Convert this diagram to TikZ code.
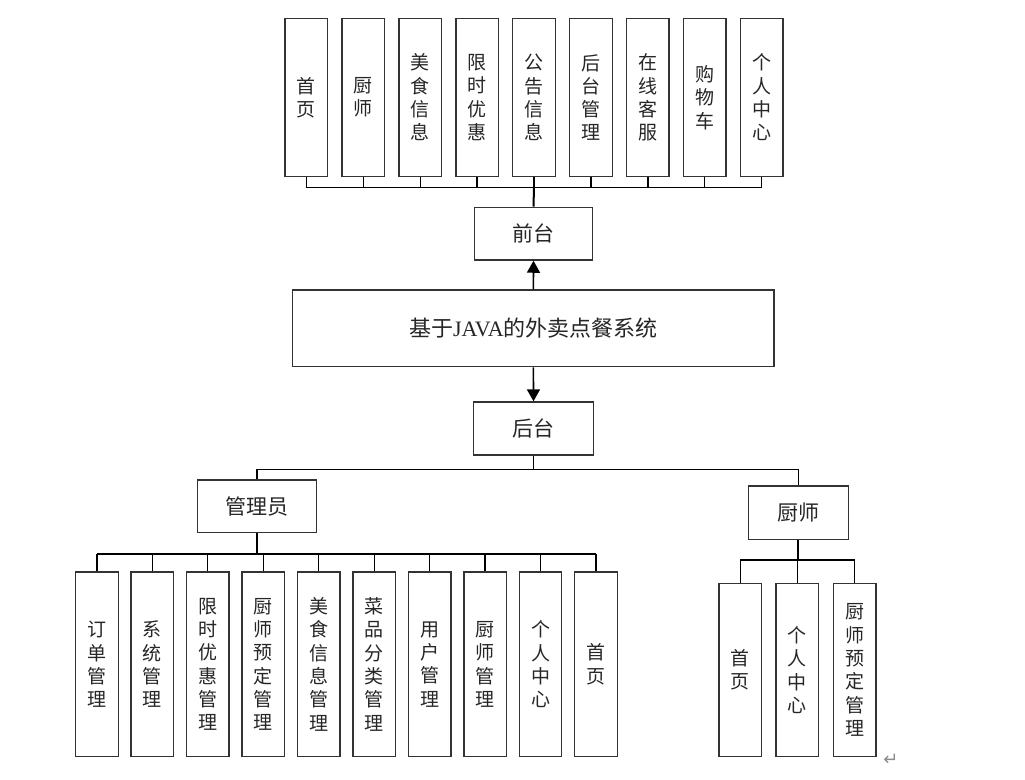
\documentclass[tikz,border=0pt]{standalone}
\usepackage{fontspec}
\newfontfamily\cjk{Noto Sans CJK SC}
\newfontfamily\latf{Liberation Serif}
\newfontfamily\symf{DejaVu Sans}
\usetikzlibrary{arrows.meta}
\begin{document}
\begin{tikzpicture}[x=1pt,y=-1pt,
  box/.style={draw=black!80, line width=1.4pt, fill=white, inner sep=0pt, text=black!85, font=\cjk\fontsize{21}{24}\selectfont},
  vbox/.style={box, minimum width=42.5pt, align=center, font=\cjk\fontsize{19}{23.3}\selectfont},
  conn/.style={line width=1.2pt, draw=black},
  trunk/.style={line width=2pt, draw=black},
  arr/.style={line width=1.6pt, draw=black, -{Triangle[width=13pt,length=12pt]}}
]
\useasboundingbox (0,0) rectangle (1025,779);

% top row
\node[vbox, minimum height=158.4pt] (t1) at (306.2,97.5) {首\\页};
\node[vbox, minimum height=158.4pt] (t2) at (363.15,97.5) {厨\\师};
\node[vbox, minimum height=158.4pt] (t3) at (420.1,97.5) {美\\食\\信\\息};
\node[vbox, minimum height=158.4pt] (t4) at (477.05,97.5) {限\\时\\优\\惠};
\node[vbox, minimum height=158.4pt] (t5) at (534.0,97.5) {公\\告\\信\\息};
\node[vbox, minimum height=158.4pt] (t6) at (590.95,97.5) {后\\台\\管\\理};
\node[vbox, minimum height=158.4pt] (t7) at (647.9,97.5) {在\\线\\客\\服};
\node[vbox, minimum height=158.4pt] (t8) at (704.85,97.5) {购\\物\\车};
\node[vbox, minimum height=158.4pt] (t9) at (761.8,97.5) {个\\人\\中\\心};

\node[box, minimum width=118.4pt, minimum height=52.7pt] (qt) at (533.5,233.7) {前台};
\node[box, minimum width=481.3pt, minimum height=76.7pt, font=\cjk\fontsize{22}{24}\selectfont] (main) at (533.4,328.3) {基于{\latf JAVA}的外卖点餐系统};
\node[box, minimum width=119.6pt, minimum height=53pt] (ht) at (533.5,428.5) {后台};
\node[box, minimum width=118.6pt, minimum height=52.7pt] (gly) at (257,506.3) {管理员};
\node[box, minimum width=100pt, minimum height=53.3pt] (cs) at (798.3,512.7) {厨师};

% admin children
\node[vbox, minimum height=184.7pt] (a1) at (97.0,664.3) {订\\单\\管\\理};
\node[vbox, minimum height=184.7pt] (a2) at (152.44,664.3) {系\\统\\管\\理};
\node[vbox, minimum height=184.7pt] (a3) at (207.88,664.3) {限\\时\\优\\惠\\管\\理};
\node[vbox, minimum height=184.7pt] (a4) at (263.32,664.3) {厨\\师\\预\\定\\管\\理};
\node[vbox, minimum height=184.7pt] (a5) at (318.76,664.3) {美\\食\\信\\息\\管\\理};
\node[vbox, minimum height=184.7pt] (a6) at (374.2,664.3) {菜\\品\\分\\类\\管\\理};
\node[vbox, minimum height=184.7pt] (a7) at (429.64,664.3) {用\\户\\管\\理};
\node[vbox, minimum height=184.7pt] (a8) at (485.08,664.3) {厨\\师\\管\\理};
\node[vbox, minimum height=184.7pt] (a9) at (540.52,664.3) {个\\人\\中\\心};
\node[vbox, minimum height=184.7pt] (a10) at (595.96,664.3) {首\\页};

% chef children
\node[vbox, minimum height=173.4pt] (c1) at (740.3,670) {首\\页};
\node[vbox, minimum height=173.4pt] (c2) at (797.3,670) {个\\人\\中\\心};
\node[vbox, minimum height=173.4pt] (c3) at (854.7,670) {厨\\师\\预\\定\\管\\理};

\node[font=\symf\fontsize{18}{18}\selectfont, text=black!45, inner sep=0pt] (ret) at (891,760) {↵};

% top connectors
\coordinate (tb) at (534,187.7);
\foreach \i in {1,...,9} {\draw[conn] (t\i.south) -- (t\i.south |- tb);}
\draw[conn] (t1.south |- tb) -- (t9.south |- tb);
\draw[trunk] (tb) -- (qt.north);

% arrows
\draw[arr] (main.north) -- (qt.south);
\draw[arr] (main.south) -- (ht.south |- ht.north);

% backend split
\coordinate (hb) at (533.5,469.3);
\draw[conn] (ht.south) -- (hb);
\draw[conn] (gly.north) |- (hb) -| (cs.north);

% admin bus
\coordinate (ab) at (257,554);
\draw[trunk] (gly.south) -- (ab);
\foreach \i in {1,...,10} {\draw[conn] (a\i.north) -- (a\i.north |- ab);}
\draw[conn] (a1.north |- ab) -- (a10.north |- ab);

% chef bus
\coordinate (cb) at (798.3,560);
\draw[trunk] (cs.south) -- (cb);
\foreach \i in {1,...,3} {\draw[conn] (c\i.north) -- (c\i.north |- cb);}
\draw[conn] (c1.north |- cb) -- (c3.north |- cb);
\end{tikzpicture}
\end{document}
